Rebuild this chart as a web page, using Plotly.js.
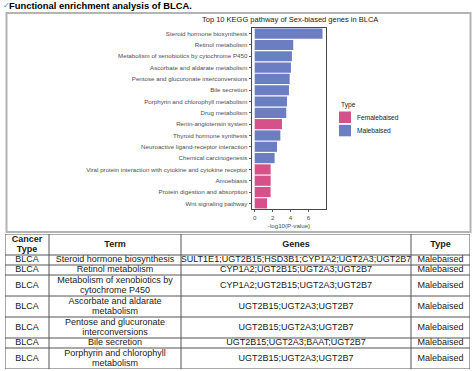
<!DOCTYPE html>
<html>
<head>
<meta charset="utf-8">
<script src="https://cdn.plot.ly/plotly-3.0.1.min.js"></script>
<style>
  html, body { margin: 0; padding: 0; background: #ffffff; overflow: hidden; }
  #chart { width: 474px; height: 371px; }
</style>
</head>
<body>
<div id="chart"></div>
<script>
// ---------------- data: bar chart ----------------
const pathways = [
  "Steroid hormone biosynthesis",
  "Retinol metabolism",
  "Metabolism of xenobiotics by cytochrome P450",
  "Ascorbate and aldarate metabolism",
  "Pentose and glucuronate interconversions",
  "Bile secretion",
  "Porphyrin and chlorophyll metabolism",
  "Drug metabolism",
  "Renin-angiotensin system",
  "Thyroid hormone synthesis",
  "Neuroactive ligand-receptor interaction",
  "Chemical carcinogenesis",
  "Viral protein interaction with cytokine and cytokine receptor",
  "Amoebiasis",
  "Protein digestion and absorption",
  "Wnt signaling pathway"
];
const negLog10P = [7.56, 4.30, 4.15, 4.04, 3.90, 3.82, 3.60, 3.52, 3.04, 2.86, 2.49, 2.22, 1.78, 1.78, 1.77, 1.38];
const pathwayType = [
  "Malebaised", "Malebaised", "Malebaised", "Malebaised", "Malebaised", "Malebaised",
  "Malebaised", "Malebaised", "Femalebaised", "Malebaised", "Malebaised", "Malebaised",
  "Femalebaised", "Femalebaised", "Femalebaised", "Femalebaised"
];
const typeLevels = ["Femalebaised", "Malebaised"];
const xTicks = [0, 2, 4, 6];

// ---------------- data: table ----------------
const tableHeader = ["Cancer\nType", "Term", "Genes", "Type"];
const tableCancer = ["BLCA", "BLCA", "BLCA", "BLCA", "BLCA", "BLCA", "BLCA"];
const tableTerm = [
  "Steroid hormone biosynthesis",
  "Retinol metabolism",
  "Metabolism of xenobiotics by\ncytochrome P450",
  "Ascorbate and aldarate\nmetabolism",
  "Pentose and glucuronate\ninterconversions",
  "Bile secretion",
  "Porphyrin and chlorophyll\nmetabolism"
];
const tableGenes = [
  "SULT1E1;UGT2B15;HSD3B1;CYP1A2;UGT2A3;UGT2B7",
  "CYP1A2;UGT2B15;UGT2A3;UGT2B7",
  "CYP1A2;UGT2B15;UGT2A3;UGT2B7",
  "UGT2B15;UGT2A3;UGT2B7",
  "UGT2B15;UGT2A3;UGT2B7",
  "UGT2B15;UGT2A3;BAAT;UGT2B7",
  "UGT2B15;UGT2A3;UGT2B7"
];
const tableType = ["Malebaised", "Malebaised", "Malebaised", "Malebaised", "Malebaised", "Malebaised", "Malebaised"];

// ---------------- styles / layout constants ----------------
const W = 474, H = 371;
const typeColors = { "Femalebaised": "#d6508a", "Malebaised": "#6b7ec2" };
const colEdges = [5, 49, 181, 411, 470];      // table column boundaries (px)
const lineH = 10;                              // line pitch in table (px)
const rowHeightFor = n => (n === 1 ? 10 : 21);
const tableTop = 234;
const px = v => v / W;
const py = v => 1 - v / H;

// ---------------- bar traces ----------------
const traces = typeLevels.map(t => {
  const idx = pathways.map((p, i) => i).filter(i => pathwayType[i] === t);
  return {
    type: "bar",
    orientation: "h",
    name: t,
    y: idx.map(i => pathways[i]),
    x: idx.map(i => negLog10P[i]),
    width: 0.9,
    marker: { color: typeColors[t], line: { width: 0 } },
    showlegend: false,
    hoverinfo: "x+y",
    xaxis: "x", yaxis: "y"
  };
});

// ---------------- table geometry from data ----------------
const tableRows = [tableHeader].concat(
  tableCancer.map((c, i) => [c, tableTerm[i], tableGenes[i], tableType[i]])
);
const rowLines = tableRows.map(r => Math.max(...r.map(c => c.split("\n").length)));
const rowHeights = rowLines.map(rowHeightFor);
const rowTops = [];
let acc = 0;
rowHeights.forEach(h => { rowTops.push(acc); acc += h; });
const tableTotal = acc;

const txX = [], txY = [], txT = [];
tableRows.forEach((row, r) => {
  row.forEach((cell, c) => {
    const lines = cell.split("\n");
    const cx = (colEdges[c] + colEdges[c + 1]) / 2;
    const cy = rowTops[r] + rowHeights[r] / 2;
    lines.forEach((ln, k) => {
      txX.push(cx);
      txY.push(cy + (k - (lines.length - 1) / 2) * lineH);
      txT.push(r === 0 ? "<b>" + ln + "</b>" : ln);
    });
  });
});
traces.push({
  type: "scatter",
  mode: "text",
  x: txX, y: txY, text: txT,
  textposition: "middle center",
  textfont: { family: "Arial, Liberation Sans, sans-serif", size: 9, color: "#1a1a1a" },
  cliponaxis: false,
  showlegend: false,
  hoverinfo: "skip",
  xaxis: "x2", yaxis: "y2"
});

const shapes = [];
// chart frame (gray box around the figure image)
shapes.push({
  type: "rect", xref: "paper", yref: "paper",
  x0: px(6.5), x1: px(470.5), y0: py(232), y1: py(13),
  line: { color: "#b4b4b4", width: 2 }, fillcolor: "rgba(0,0,0,0)", layer: "below"
});
// table horizontal lines
const hLines = rowTops.concat([tableTotal]);
hLines.forEach(y => shapes.push({
  type: "line", xref: "x2", yref: "y2",
  x0: colEdges[0], x1: colEdges[colEdges.length - 1], y0: y, y1: y,
  line: { color: "#555555", width: 1 }
}));
// table vertical lines
colEdges.forEach(x => shapes.push({
  type: "line", xref: "x2", yref: "y2",
  x0: x, x1: x, y0: 0, y1: tableTotal,
  line: { color: "#555555", width: 1 }
}));
// manual legend keys
const legTop = [111.5, 124.8];
typeLevels.forEach((t, i) => shapes.push({
  type: "rect", xref: "paper", yref: "paper",
  x0: px(339), x1: px(351), y0: py(legTop[i] + 11.5), y1: py(legTop[i]),
  line: { width: 0 }, fillcolor: typeColors[t]
}));

const annotations = [
  { text: "✓", x: px(1), y: py(6), xref: "paper", yref: "paper", xanchor: "left", yanchor: "middle",
    showarrow: false, font: { family: "DejaVu Sans", size: 8, color: "#3a8ad6" } },
  { text: "<b>Functional enrichment analysis of BLCA.</b>", x: px(6.5), y: py(6), xref: "paper", yref: "paper",
    xanchor: "left", yanchor: "middle", showarrow: false,
    font: { family: "Arial, Liberation Sans, sans-serif", size: 9.4, color: "#000000" } },
  { text: "Top 10 KEGG pathway of Sex-biased genes in BLCA", x: px(290), y: py(19), xref: "paper", yref: "paper",
    xanchor: "center", yanchor: "middle", showarrow: false,
    font: { family: "Arial, Liberation Sans, sans-serif", size: 7.5, color: "#1a1a1a" } },
  { text: "Type", x: px(338.5), y: py(104.5), xref: "paper", yref: "paper",
    xanchor: "left", yanchor: "middle", showarrow: false,
    font: { family: "Arial, Liberation Sans, sans-serif", size: 6.6, color: "#1a1a1a" } }
];
typeLevels.forEach((t, i) => annotations.push({
  text: t, x: px(354.5), y: py(legTop[i] + 5.8), xref: "paper", yref: "paper",
  xanchor: "left", yanchor: "middle", showarrow: false,
  font: { family: "Arial, Liberation Sans, sans-serif", size: 6.6, color: "#1a1a1a" }
}));

const axisFont = { family: "Arial, Liberation Sans, sans-serif", size: 6.2, color: "#4d4d4d" };
const layout = {
  width: W, height: H,
  margin: { l: 0, r: 0, t: 0, b: 0 },
  paper_bgcolor: "#ffffff", plot_bgcolor: "#ffffff",
  barmode: "overlay",
  bargap: 0.1,
  showlegend: false,
  font: { family: "Arial, Liberation Sans, sans-serif" },
  xaxis: {
    domain: [px(252), px(326)],
    range: [-0.3, 7.95],
    tickvals: xTicks,
    ticktext: xTicks.map(String),
    ticks: "outside", ticklen: 2.5, tickwidth: 0.8, tickcolor: "#333333",
    tickfont: axisFont,
    showline: true, mirror: true, linecolor: "#333333", linewidth: 0.9,
    showgrid: false, zeroline: false,
    title: { text: "-log10(P-value)", font: axisFont, standoff: 3 },
    anchor: "y", fixedrange: true
  },
  yaxis: {
    domain: [py(209), py(28)],
    type: "category",
    categoryorder: "array", categoryarray: pathways,
    autorange: "reversed",
    ticks: "outside", ticklen: 2.5, tickwidth: 0.8, tickcolor: "#333333",
    tickfont: axisFont,
    showline: true, mirror: true, linecolor: "#333333", linewidth: 0.9,
    showgrid: false, zeroline: false,
    anchor: "x", fixedrange: true
  },
  xaxis2: {
    domain: [px(colEdges[0]), px(colEdges[colEdges.length - 1])],
    range: [colEdges[0], colEdges[colEdges.length - 1]],
    visible: false, anchor: "y2", fixedrange: true
  },
  yaxis2: {
    domain: [py(tableTop + tableTotal), py(tableTop)],
    range: [tableTotal, 0],
    visible: false, anchor: "x2", fixedrange: true
  },
  shapes: shapes,
  annotations: annotations
};

Plotly.newPlot("chart", traces, layout, { displayModeBar: false, staticPlot: true });
</script>
</body>
</html>
